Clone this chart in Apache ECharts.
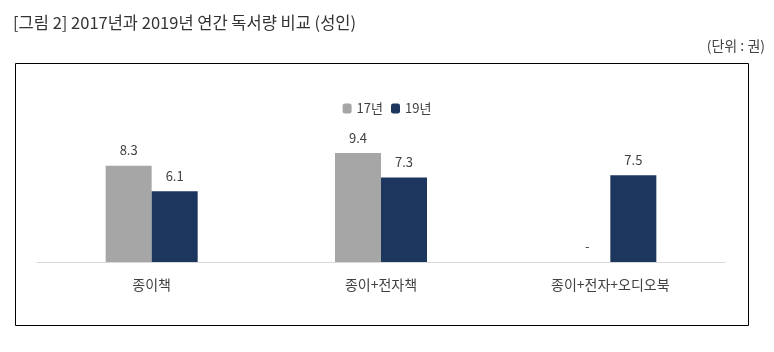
<!DOCTYPE html>
<html><head><meta charset="utf-8">
<script src="https://cdn.jsdelivr.net/npm/echarts@6/dist/echarts.min.js"></script>
<style>html,body{margin:0;padding:0;background:#fff}#c{width:774px;height:352px}</style>
</head><body><div id="c"></div>
<script>
const categories = ['종이책', '종이+전자책', '종이+전자+오디오북'];
const seriesNames = ['17년', '19년'];
const values17 = [8.3, 9.4, 0];
const values19 = [6.1, 7.3, 7.5];
const titleText = '[그림 2] 2017년과 2019년 연간 독서량 비교 (성인)';
const unitText = '(단위 : 권)';

const FONT = '"Noto Sans CJK KR", "Noto Sans", sans-serif';
const chart = echarts.init(document.getElementById('c'), null, {renderer: 'canvas'});
const lbl = {show: true, position: 'top', distance: 9, color: '#404040', fontSize: 13, fontFamily: FONT,
  formatter: p => p.value === 0 ? '-' : p.value.toFixed(1)};
chart.setOption({
  animation: false,
  backgroundColor: '#fff',
  title: [{text: titleText, left: 8, top: 9, textStyle: {fontSize: 16.5, fontWeight: 'normal', color: '#333', fontFamily: FONT}},
          {text: unitText, right: 4, top: 34, textStyle: {fontSize: 14, fontWeight: 'normal', color: '#444', fontFamily: FONT}}],
  graphic: [{type: 'rect', shape: {x: 15.5, y: 63.5, width: 733, height: 262}, style: {fill: 'none', stroke: '#000', lineWidth: 1}, silent: true}],
  legend: {data: seriesNames, top: 97, left: 'center', itemWidth: 9, itemHeight: 10, itemGap: 8,
    textStyle: {fontSize: 13, color: '#404040', fontFamily: FONT}},
  grid: {left: 37, right: 49, top: 123, bottom: 90},
  xAxis: {type: 'category', data: categories, axisTick: {show: false},
    axisLine: {lineStyle: {color: '#d9d9d9', width: 1}},
    axisLabel: {margin: 16, fontSize: 14, color: '#404040', fontFamily: FONT}},
  yAxis: {type: 'value', min: 0, max: 12, show: false, splitLine: {show: false}},
  series: [
    {name: seriesNames[0], type: 'bar', data: values17, barWidth: 46, barGap: '0%', itemStyle: {color: '#a6a6a6'}, label: lbl},
    {name: seriesNames[1], type: 'bar', data: values19, barWidth: 46, itemStyle: {color: '#1c365e'}, label: lbl}
  ]
});
</script></body></html>
